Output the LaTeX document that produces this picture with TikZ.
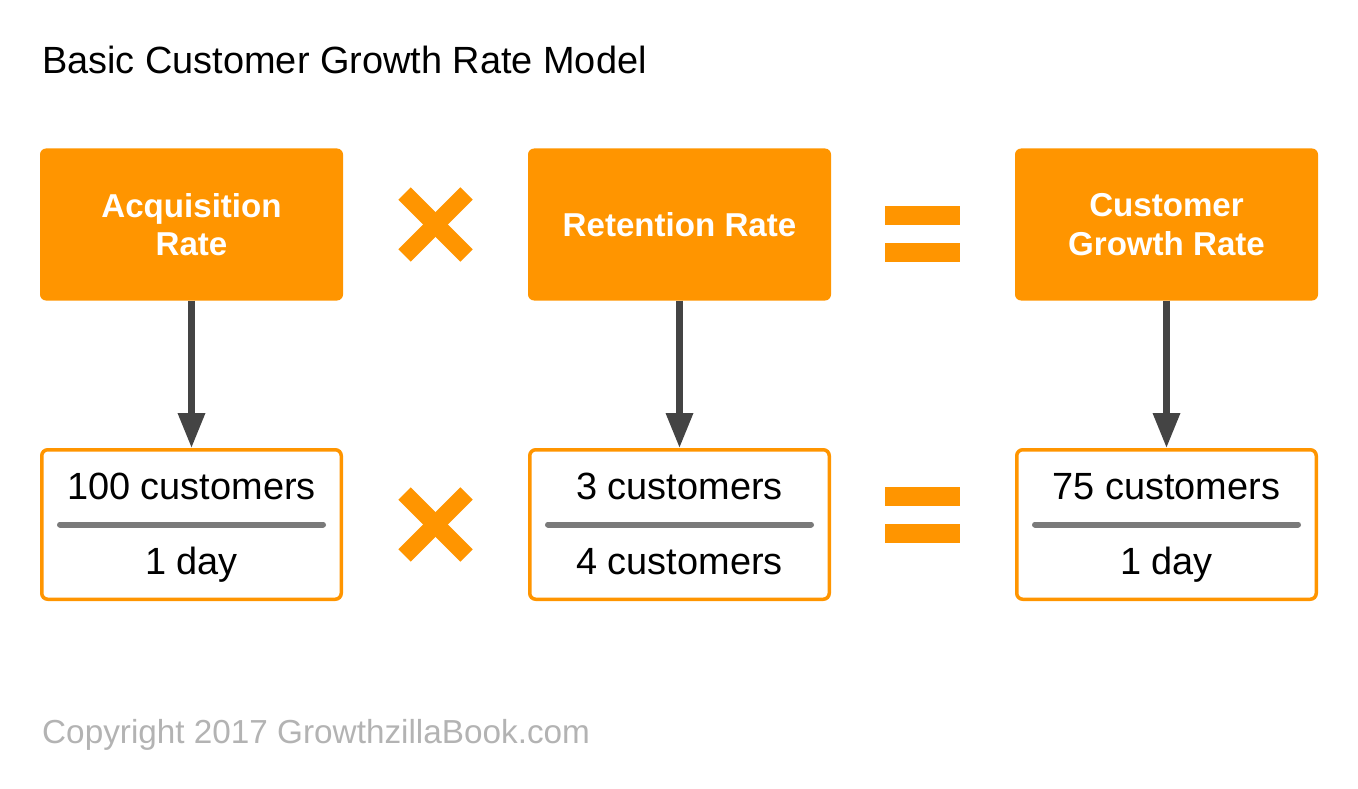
\documentclass[tikz,border=0pt]{standalone}
\usepackage{fontspec}
\setmainfont{Liberation Sans}
\usetikzlibrary{arrows.meta}
\definecolor{growthorange}{HTML}{FF9500}
\definecolor{arrowgray}{HTML}{444444}
\definecolor{ruleGray}{HTML}{7A7A7A}
\definecolor{noteGray}{HTML}{B3B3B3}
\tikzset{
  rateBox/.style={fill=growthorange, rounded corners=6pt, minimum width=303pt, minimum height=152pt,
    inner sep=0pt, text=white, align=center, font=\fontsize{33.1}{38.5}\selectfont\bfseries},
  valueBox/.style={draw=growthorange, line width=3.5pt, fill=white, rounded corners=6pt,
    minimum width=299.5pt, minimum height=149.5pt, inner sep=0pt},
  valueText/.style={anchor=base, inner sep=0pt, font=\fontsize{37.9}{44}\selectfont},
  flowArrow/.style={draw=arrowgray, line width=6.5pt, -{Triangle[width=26pt, length=35pt]}},
  crossBar/.style={draw=growthorange, line width=17.6pt},
  equalBar/.style={fill=growthorange},
  ruleBar/.style={draw=ruleGray, line width=6pt, line cap=round},
}
\begin{document}
\begin{tikzpicture}[x=1pt, y=-1pt]
  \def\colA{191.5}
  \def\colB{679.5}
  \def\colC{1166.5}
  \def\rowTop{224.5}
  \def\rowBot{524.5}
  \useasboundingbox (0,0) rectangle (1358,789);

  \node (Title) [anchor=base west, inner sep=0pt, font=\fontsize{37.9}{44}\selectfont] at (42,74)
    {Basic Customer Growth Rate Model};

  \node (Acquisition) [rateBox] at (\colA,\rowTop) {Acquisition\\Rate};
  \node (Retention) [rateBox] at (\colB,\rowTop) {Retention Rate};
  \node (Growth) [rateBox] at (\colC,\rowTop) {Customer\\Growth Rate};

  \node (AcquisitionVal) [valueBox] at (\colA,\rowBot) {};
  \node (RetentionVal) [valueBox] at (\colB,\rowBot) {};
  \node (GrowthVal) [valueBox] at (\colC,\rowBot) {};

  \draw[flowArrow] (Acquisition) -- (AcquisitionVal);
  \draw[flowArrow] (Retention) -- (RetentionVal);
  \draw[flowArrow] (Growth) -- (GrowthVal);

  % fractions
  \foreach \col/\name/\upper/\lower in {\colA/A/100 customers/1 day, \colB/B/3 customers/4 customers, \colC/C/75 customers/1 day} {
    \node (Upper\name) [valueText] at (\col,499) {\upper};
    \node (Lower\name) [valueText] at (\col,574) {\lower};
    \draw[ruleBar] (\col-131.5,\rowBot) -- (\col+131.5,\rowBot);
  }

  % operators
  \foreach \y in {\rowTop,\rowBot} {
    \draw[crossBar] (435.5-31,\y-31) -- (435.5+31,\y+31);
    \draw[crossBar] (435.5-31,\y+31) -- (435.5+31,\y-31);
  }
  \foreach \y in {206,487} {
    \fill[equalBar] (885,\y) rectangle (960,\y+18.5);
    \fill[equalBar] (885,\y+37) rectangle (960,\y+56);
  }

  \node (Note) [anchor=base west, inner sep=0pt, text=noteGray, font=\fontsize{33.3}{38}\selectfont] at (42,743)
    {Copyright 2017 GrowthzillaBook.com};
\end{tikzpicture}
\end{document}
